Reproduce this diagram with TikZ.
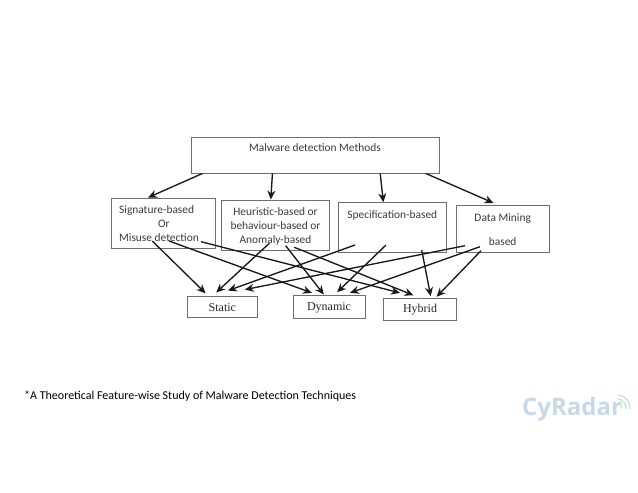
\documentclass[tikz,border=0pt]{standalone}
\usepackage{fontspec}
\setmainfont{Carlito}
\newfontfamily\boxserif{Liberation Serif}
\newfontfamily\logofont{Open Sans}
\usetikzlibrary{arrows.meta,calc}
\definecolor{boxline}{HTML}{6E6E6E}
\definecolor{inktext}{HTML}{3A3A3A}
\definecolor{logoblue}{HTML}{C6D9EA}
\definecolor{logogreen}{HTML}{BFE3CC}
\tikzset{
	box/.style={draw=boxline, line width=0.9pt, inner sep=0pt},
	lab/.style={text=inktext, font=\fontsize{11.4}{14}\selectfont, inner sep=0pt, align=center},
	serif/.style={text=black!85, font=\boxserif\fontsize{12}{14}\selectfont, inner sep=0pt},
	arr/.style={draw=black!90, line width=1.35pt, -{Stealth[length=9pt,width=8pt]}},
	wave/.style={draw=logogreen, line width=1.2pt},
}
\begin{document}
\begin{tikzpicture}[x=1pt, y=-1pt]
	    \useasboundingbox (0,0) rectangle (638,493);
	    % boxes
	    \node[box, minimum width=248pt, minimum height=36pt] (main) at (315,155) {};
	    \node[box, minimum width=104.7pt, minimum height=50pt] (sig) at (163.3,223) {};
	    \node[box, minimum width=107.3pt, minimum height=50pt] (heur) at (275.3,225) {};
	    \node[box, minimum width=108pt, minimum height=49.6pt] (spec) at (392,227.5) {};
	    \node[box, minimum width=93pt, minimum height=46.6pt] (data) at (502.5,229) {};
	    \node[box, minimum width=69.4pt, minimum height=21.8pt] (static) at (222.4,306.9) {};
	    \node[box, minimum width=72.8pt, minimum height=23pt] (dynamic) at (329.4,306.5) {};
	    \node[box, minimum width=73pt, minimum height=22pt] (hybrid) at (419.5,309) {};
	    % labels
	    \node[lab] (maintext) at (315,148) {Malware detection Methods};
	    \node[lab, align=left] (sigtext) at (159,224) {Signature-based\\\hspace*{39pt}Or\\Misuse detection};
	    \node[lab] (heurtext) at (275.5,226) {Heuristic-based or\\behaviour-based or\\Anomaly-based};
	    \node[lab] (spectext) at (392.3,215) {Specification-based};
	    \node[lab] (datatext) at (502.7,229.7) {Data Mining\\[10pt]based};
	    \node[serif] (statictext) at (222.4,308) {Static};
	    \node[serif] (dynamictext) at (329,308) {Dynamic};
	    \node[serif] (hybridtext) at (420,310) {Hybrid};
	    \node[anchor=west, text=black, font=\fontsize{12}{14}\selectfont, inner sep=0pt] (source) at (24,396) {*A Theoretical Feature-wise Study of Malware Detection Techniques};
	    % tails inside the upper boxes
	    \coordinate (sigA) at (152.3,241);
	    \coordinate (sigB) at (169,241);
	    \coordinate (sigC) at (201,241.7);
	    \coordinate (heurA) at (269.3,243.3);
	    \coordinate (heurB) at (285.7,245.7);
	    \coordinate (heurC) at (294.3,247.3);
	    \coordinate (specA) at (355,245);
	    \coordinate (specB) at (386,245);
	    \coordinate (specC) at (421.7,250);
	    \coordinate (dataA) at (465,245.7);
	    \coordinate (dataB) at (480,246.7);
	    \coordinate (dataC) at (481,250.7);
	    % main to methods
	    \draw[arr] ($(main.south west)!0.048!(main.south east)$) -- (sig.121);
	    \draw[arr] ($(main.south west)!0.329!(main.south east)$) -- (heur.100.4);
	    \draw[arr] ($(main.south west)!0.762!(main.south east)$) -- (spec.109);
	    \draw[arr, shorten >=5.7pt] ($(main.south west)!0.945!(main.south east)$) -- (data.99.7);
	    % methods to kinds
	    \draw[arr, shorten >=3.2pt] (sigA) -- (static.142.9);
	    \draw[arr, shorten >=5pt] (sigB) -- (dynamic.137.2);
	    \draw[arr, shorten >=18.7pt] (sigC) -- (hybrid.97.3);
	    \draw[arr, shorten >=4.5pt] (heurA) -- (static.130.2);
	    \draw[arr] (heurB) -- (dynamic.115.6);
	    \draw[arr, shorten >=6.1pt] (heurC) -- (hybrid.92.6);
	    \draw[arr, shorten >=14.7pt] (specA) -- (static.126);
	    \draw[arr, shorten >=3.3pt] (specB) -- (dynamic.66.9);
	    \draw[arr, shorten >=1.3pt] (specC) -- (hybrid.45.8);
	    \draw[arr, shorten >=30.4pt] (dataA) -- (static.123.4);
	    \draw[arr, shorten >=5.1pt] (dataB) -- (dynamic.37.9);
	    \draw[arr, shorten >=1pt] (dataC) -- (hybrid.35.4);
	    % logo
	    \node[anchor=west, text=logoblue, font=\logofont\bfseries\fontsize{24}{26}\selectfont, inner sep=0pt] (logo) at (522,409) {CyRadar};
	    \draw[wave] (617.4,403) arc[start angle=85, end angle=-5, radius=5pt];
	    \draw[wave] (617.8,399) arc[start angle=85, end angle=-5, radius=9pt];
	    \draw[wave] (618.1,395) arc[start angle=85, end angle=-5, radius=13pt];
\end{tikzpicture}
\end{document}
